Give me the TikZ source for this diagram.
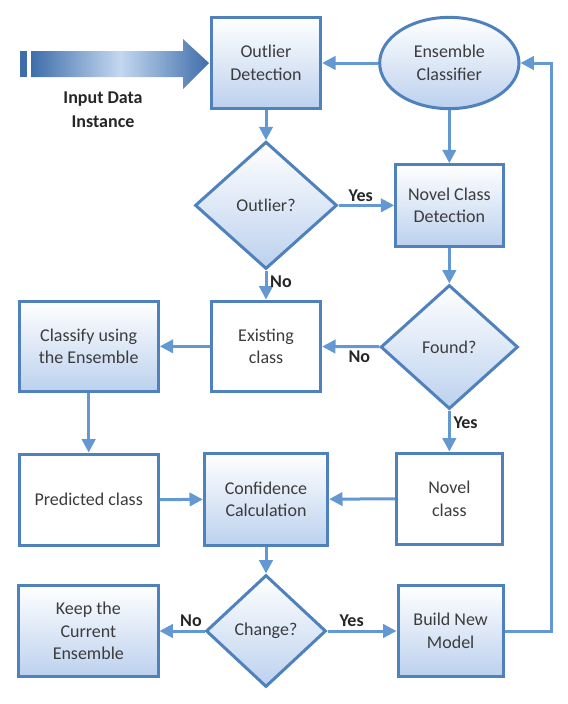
\documentclass[tikz,border=0pt]{standalone}
\usepackage{fontspec}
\setmainfont{Carlito}
\usepackage{xcolor}
\usetikzlibrary{arrows.meta, positioning, shapes.geometric, calc}

\definecolor{edgeblue}{RGB}{79,129,189}
\definecolor{linkblue}{RGB}{100,152,210}
\definecolor{shadeblue}{RGB}{188,209,238}
\definecolor{darkarrow}{RGB}{62,110,170}
\definecolor{lightarrow}{RGB}{196,216,240}
\definecolor{nodetext}{RGB}{60,60,60}

\begin{document}
\begin{tikzpicture}[
    x=0.75pt, y=-0.75pt,
    font=\fontsize{13.5pt}{17pt}\selectfont,
    line width=2.25pt,
    base/.style={
      draw=edgeblue,
      line width=2.25pt,
      align=center,
      text=nodetext,
      inner sep=1pt
    },
    box/.style={
      base,
      rectangle,
      top color=white,
      bottom color=shadeblue
    },
    plainbox/.style={
      base,
      rectangle,
      fill=white
    },
    decision/.style={
      base,
      diamond,
      inner sep=0pt,
      top color=white,
      bottom color=shadeblue
    },
    ensemblenode/.style={
      base,
      ellipse,
      top color=white,
      bottom color=shadeblue
    },
    arrowstyle/.style={
      draw=linkblue,
      -{Triangle[length=10pt, width=10pt]},
      line width=2.25pt
    },
    answer/.style={
      font=\fontsize{13.5pt}{17pt}\selectfont\bfseries,
      text=black!85,
      inner sep=2pt
    }
]
\useasboundingbox (0,0) rectangle (568,704);

% 1. NODES
\node[box, minimum width=82pt, minimum height=68.5pt] (outlier) at (266,63) {Outlier\\Detection};
\node[ensemblenode, minimum width=104.5pt, minimum height=68.5pt, right=42pt of outlier] (ensemble) {Ensemble\\Classifier};
\node[decision, minimum width=106.5pt, minimum height=95.5pt, below=22.5pt of outlier] (isoutlier) {Outlier?};
\node[box, minimum width=80.5pt, minimum height=61pt, below=39.75pt of ensemble] (noveldetect) {Novel Class\\Detection};
\node[plainbox, minimum width=82pt, minimum height=68pt, below=21.75pt of isoutlier] (existing) {Existing\\class};
\node[decision, minimum width=103pt, minimum height=93pt, below=27pt of noveldetect] (found) {Found?};
\node[box, minimum width=104.5pt, minimum height=67pt, left=37.5pt of existing] (classify) {Classify using\\the Ensemble};
\node[plainbox, minimum width=104.5pt, minimum height=68.5pt, below=45pt of classify] (predicted) {Predicted class};
\node[box, minimum width=92.5pt, minimum height=68.5pt, below=44.25pt of existing] (confidence) {Confidence\\Calculation};
\node[plainbox, minimum width=79pt, minimum height=68.5pt, below=30.75pt of found] (novel) {Novel\\class};
\node[decision, minimum width=90pt, minimum height=84pt, below=20.25pt of confidence] (change) {Change?};
\node[box, minimum width=104.5pt, minimum height=68.5pt, left=33.75pt of change] (keep) {Keep the\\Current\\Ensemble};
\node[box, minimum width=79pt, minimum height=68.5pt, right=51.75pt of change] (build) {Build New\\Model};

% input arrow on the left
\fill[darkarrow] (20,51) rectangle (27,77);
\shade[left color=darkarrow, right color=darkarrow, middle color=lightarrow]
    (31,51) -- (183,51) -- (183,39) -- (209,63) -- (183,89) -- (183,77) -- (31,77) -- cycle;
\node[answer, align=center, font=\fontsize{13.5pt}{18pt}\selectfont\bfseries] (inputlabel) at (103,110) {Input Data\\Instance};

% 2. ARROWS
\draw[arrowstyle] (ensemble) -- (outlier);
\draw[arrowstyle] (outlier) -- (isoutlier);
\draw[arrowstyle] (ensemble) -- (noveldetect);
\draw[arrowstyle] (isoutlier) -- node[answer, above, pos=0.4]{Yes} (noveldetect);
\draw[arrowstyle] (isoutlier) -- node[answer, right, pos=0.4]{No} (existing);
\draw[arrowstyle] (noveldetect) -- (found);
\draw[arrowstyle] (found) -- node[answer, below, pos=0.35]{No} (existing);
\draw[arrowstyle] (existing) -- (classify);
\draw[arrowstyle] (found) -- node[answer, right, pos=0.3]{Yes} (novel);
\draw[arrowstyle] (classify) -- (predicted);
\draw[arrowstyle] (predicted) -- (confidence);
\draw[arrowstyle] (novel) -- (confidence);
\draw[arrowstyle] (confidence) -- (change);
\draw[arrowstyle] (change) -- node[answer, above, pos=0.3]{No} (keep);
\draw[arrowstyle] (change) -- node[answer, above, pos=0.35]{Yes} (build);

% loop back to the ensemble
\draw[arrowstyle] (build.east) -- ++(47,0) |- (ensemble.east);

\end{tikzpicture}
\end{document}
